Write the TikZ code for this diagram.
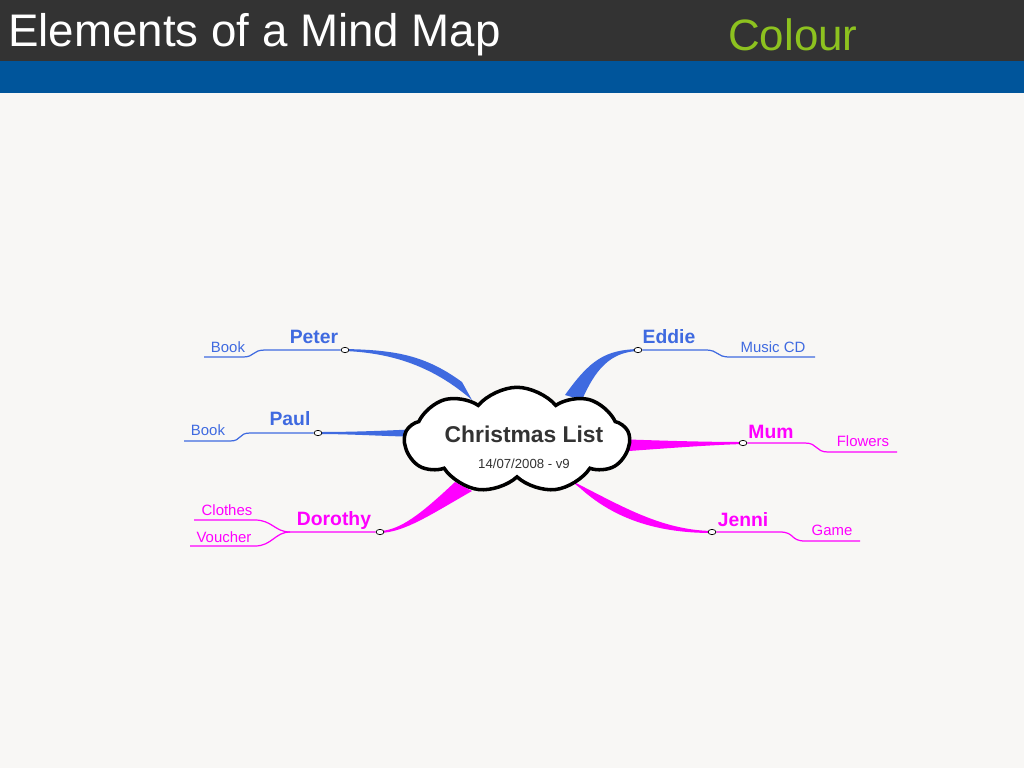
\documentclass[tikz,border=0pt]{standalone}
\usepackage{fontspec}
\setmainfont{Liberation Sans}
\usetikzlibrary{shapes.symbols,shapes.geometric}
\definecolor{bg}{HTML}{F8F7F5}
\definecolor{hdr}{HTML}{333333}
\definecolor{band}{HTML}{00559B}
\definecolor{lime}{HTML}{8DC21F}
\definecolor{bl}{HTML}{3F6AE0}
\definecolor{mg}{HTML}{FF00FF}
\tikzset{
 who/.style={font=\bfseries\fontsize{11}{12}\selectfont},
 leaf/.style={font=\fontsize{8.5}{10}\selectfont},
 knob/.style={ellipse,draw=black,fill=white,inner sep=0pt,minimum width=4.5pt,minimum height=3pt},
 twig/.style={line width=0.7pt},
}
\begin{document}
\begin{tikzpicture}[x=0.02cm,y=-0.02cm]
\fill[bg] (0,0) rectangle (1024,768);
\fill[hdr] (0,0) rectangle (1024,61);
\fill[band] (0,61) rectangle (1024,93);
\node[anchor=west,white,font=\fontsize{26}{30}\selectfont] (title) at (2,35) {Elements of a Mind Map};
\node[anchor=west,lime,font=\fontsize{25}{30}\selectfont] (col) at (722,35) {Colour};
% tapered branches
\fill[bl] (462,382) .. controls (425,355) and (395,350) .. (345,349) -- (345,351) .. controls (395,353) and (435,368) .. (472,400) -- cycle;
\fill[bl] (420,429) .. controls (380,431) and (350,432) .. (318,432) -- (318,434) .. controls (350,434) and (380,436) .. (420,437) -- cycle;
\fill[mg] (455,482) .. controls (420,515) and (400,530) .. (380,531) -- (380,533) .. controls (405,532) and (430,515) .. (472,491) -- cycle;
\fill[bl] (565,395) .. controls (590,360) and (605,350) .. (638,349) -- (638,351) .. controls (610,352) and (595,370) .. (582,400) -- cycle;
\fill[mg] (615,439) .. controls (670,441) and (710,442) .. (743,442) -- (743,444) .. controls (710,445) and (670,448) .. (615,452) -- cycle;
\fill[mg] (570,480) .. controls (620,505) and (660,530) .. (712,531) -- (712,533) .. controls (650,533) and (610,515) .. (580,488) -- cycle;
% cloud
\node[cloud,cloud puffs=9,cloud puff arc=100,aspect=2.2,draw=black,line width=2pt,fill=white,minimum width=128pt,minimum height=60pt] (cl) at (517,440) {};
\node[font=\bfseries\fontsize{13}{15}\selectfont,text=hdr] (ct) at (524,434) {Christmas List};
\node[font=\fontsize{7.5}{9}\selectfont,text=hdr] (cd) at (524,464) {14/07/2008 - v9};
% knobs
\node[knob] (kp) at (345,350) {};
\node[knob] (kpa) at (318,433) {};
\node[knob] (kd) at (380,532) {};
\node[knob] (ke) at (638,350) {};
\node[knob] (km) at (743,443) {};
\node[knob] (kj) at (712,532) {};
% names
\node[who,bl] at (314,337) {Peter};
\node[who,bl] at (290,419) {Paul};
\node[who,mg] at (334,520) {Dorothy};
\node[who,bl] at (669,337) {Eddie};
\node[who,mg] at (771,432) {Mum};
\node[who,mg] at (743,520) {Jenni};
% twigs
\coordinate (lb1) at (204,357); \coordinate (lb2) at (184,441);
\coordinate (lc) at (194,520); \coordinate (lv) at (190,546);
\coordinate (rm) at (815,357); \coordinate (rf) at (897,452); \coordinate (rg) at (860,541);
\draw[twig,bl] (kp) -- (265,350) .. controls (252,350) and (255,357) .. (243,357) -- (lb1);
\draw[twig,bl] (kpa) -- (250,433) .. controls (238,433) and (242,441) .. (230,441) -- (lb2);
\draw[twig,mg] (kd) -- (290,532) .. controls (275,532) and (272,520) .. (255,520) -- (lc);
\draw[twig,mg] (290,532) .. controls (275,532) and (272,546) .. (255,546) -- (lv);
\draw[twig,bl] (ke) -- (705,350) .. controls (720,350) and (715,357) .. (730,357) -- (rm);
\draw[twig,mg] (km) -- (805,443) .. controls (818,443) and (815,452) .. (828,452) -- (rf);
\draw[twig,mg] (kj) -- (780,532) .. controls (795,532) and (790,541) .. (805,541) -- (rg);
\node[leaf,bl] at (228,347) {Book};
\node[leaf,bl] at (208,430) {Book};
\node[leaf,mg] at (227,510) {Clothes};
\node[leaf,mg] at (224,537) {Voucher};
\node[leaf,bl] at (773,347) {Music CD};
\node[leaf,mg] at (863,441) {Flowers};
\node[leaf,mg] at (832,530) {Game};
\end{tikzpicture}
\end{document}
